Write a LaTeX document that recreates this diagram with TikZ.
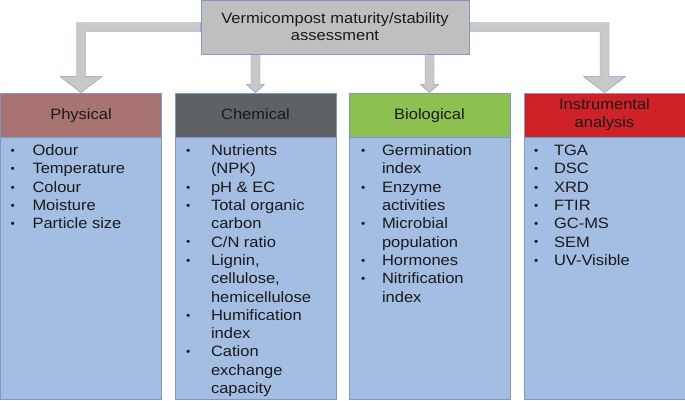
\documentclass[tikz,border=0pt]{standalone}
\usepackage{fontspec}
\setmainfont{Liberation Sans}[FakeStretch=1.1]
\usepackage{xcolor}
\usetikzlibrary{positioning,calc,backgrounds}

\definecolor{boxline}{HTML}{7F97C2}
\definecolor{bodyblue}{HTML}{A3BDE3}
\definecolor{topgray}{HTML}{BFBFBF}
\definecolor{arrowgray}{HTML}{C8C8C8}
\definecolor{physred}{HTML}{A87472}
\definecolor{chemgray}{HTML}{5F6264}
\definecolor{biogreen}{HTML}{8CC152}
\definecolor{instred}{HTML}{CE2128}
\definecolor{inktext}{HTML}{1A1A1A}

\newcommand{\bul}{\raisebox{1.2pt}{\fontsize{11}{11}\selectfont\textbullet}}
\newcommand{\bulletlist}[2][22pt]{\begin{tabular}{@{}p{#1}@{}l@{}}#2\end{tabular}}

\begin{document}
\begin{tikzpicture}[x=1pt,y=-1pt,line width=0.8pt,
  topbox/.style={draw=boxline,fill=topgray,text=inktext,align=center,minimum width=268pt,minimum height=54pt,inner sep=0pt,font=\fontsize{15}{17}\selectfont},
  head/.style={draw=boxline,text=inktext,align=center,minimum width=161pt,minimum height=44pt,inner sep=0pt,font=\fontsize{15}{18}\selectfont},
  oneline/.style={text height=11pt,text depth=3pt},
  body/.style={draw=boxline,fill=bodyblue,minimum width=161pt,minimum height=262pt,inner sep=0pt},
  items/.style={anchor=north west,inner sep=0pt,text=inktext,font=\fontsize{15}{18.3}\selectfont},
  barrow/.style={draw=boxline,fill=arrowgray,line join=miter}]
\useasboundingbox (0,0) rectangle (685,400);
% assessment box on top
\node[topbox] (top) at (335,27) {Vermicompost maturity/stability\\assessment};
% four category headers with their bodies below
\node[head,oneline,fill=physred] (phys) at (81,115) {Physical};
\node[head,oneline,fill=chemgray] (chem) at (255.5,115) {Chemical};
\node[head,oneline,fill=biogreen] (bio) at (429.5,115) {Biological};
\node[head,fill=instred] (inst) at (604.5,115) {Instrumental\\analysis};
\node[body,below=0pt of phys] (physbody) {};
\node[body,below=0pt of chem] (chembody) {};
\node[body,below=0pt of bio] (biobody) {};
\node[body,below=0pt of inst] (instbody) {};
% lists
\node[items] (physlist) at ($(physbody.north west)+(10,5)$) {\bulletlist{%
  \bul & Odour\\ \bul & Temperature\\ \bul & Colour\\ \bul & Moisture\\ \bul & Particle size}};
\node[items] (chemlist) at ($(chembody.north west)+(11,5)$) {\bulletlist[25pt]{%
  \bul & Nutrients\\ & (NPK)\\ \bul & pH \& EC\\ \bul & Total organic\\ & carbon\\
  \bul & C/N ratio\\ \bul & Lignin,\\ & cellulose,\\ & hemicellulose\\
  \bul & Humification\\ & index\\ \bul & Cation\\ & exchange\\ & capacity}};
\node[items] (biolist) at ($(biobody.north west)+(12,5)$) {\bulletlist[21pt]{%
  \bul & Germination\\ & index\\ \bul & Enzyme\\ & activities\\ \bul & Microbial\\ & population\\
  \bul & Hormones\\ \bul & Nitrification\\ & index}};
\node[items] (instlist) at ($(instbody.north west)+(10,5)$) {\bulletlist[20pt]{%
  \bul & TGA\\ \bul & DSC\\ \bul & XRD\\ \bul & FTIR\\ \bul & GC-MS\\ \bul & SEM\\ \bul & UV-Visible}};
% block arrows, behind the boxes
\begin{scope}[on background layer]
\draw[barrow] ($(top.west)+(0,-4.5)$) -| ($(phys.north)+(-4.5,-16)$) -- ++(-16.5,0)
  -- (phys.north) -- ++(21,-16) -- ++(-16.5,0) |- ($(top.west)+(0,4.5)$) -- cycle;
\draw[barrow] ($(top.east)+(0,-4.5)$) -| ($(inst.north)+(4.5,-16)$) -- ++(16.5,0)
  -- (inst.north) -- ++(-21,-16) -- ++(16.5,0) |- ($(top.east)+(0,4.5)$) -- cycle;
\draw[barrow] ($(chem.north)+(-4.5,-41)$) -- ++(0,33) -- ++(-4.5,0) -- (chem.north)
  -- ++(9,-8) -- ++(-4.5,0) -- ++(0,-33) -- cycle;
\draw[barrow] ($(bio.north)+(-4.5,-41)$) -- ++(0,33) -- ++(-4.5,0) -- (bio.north)
  -- ++(9,-8) -- ++(-4.5,0) -- ++(0,-33) -- cycle;
\end{scope}
\end{tikzpicture}
\end{document}
